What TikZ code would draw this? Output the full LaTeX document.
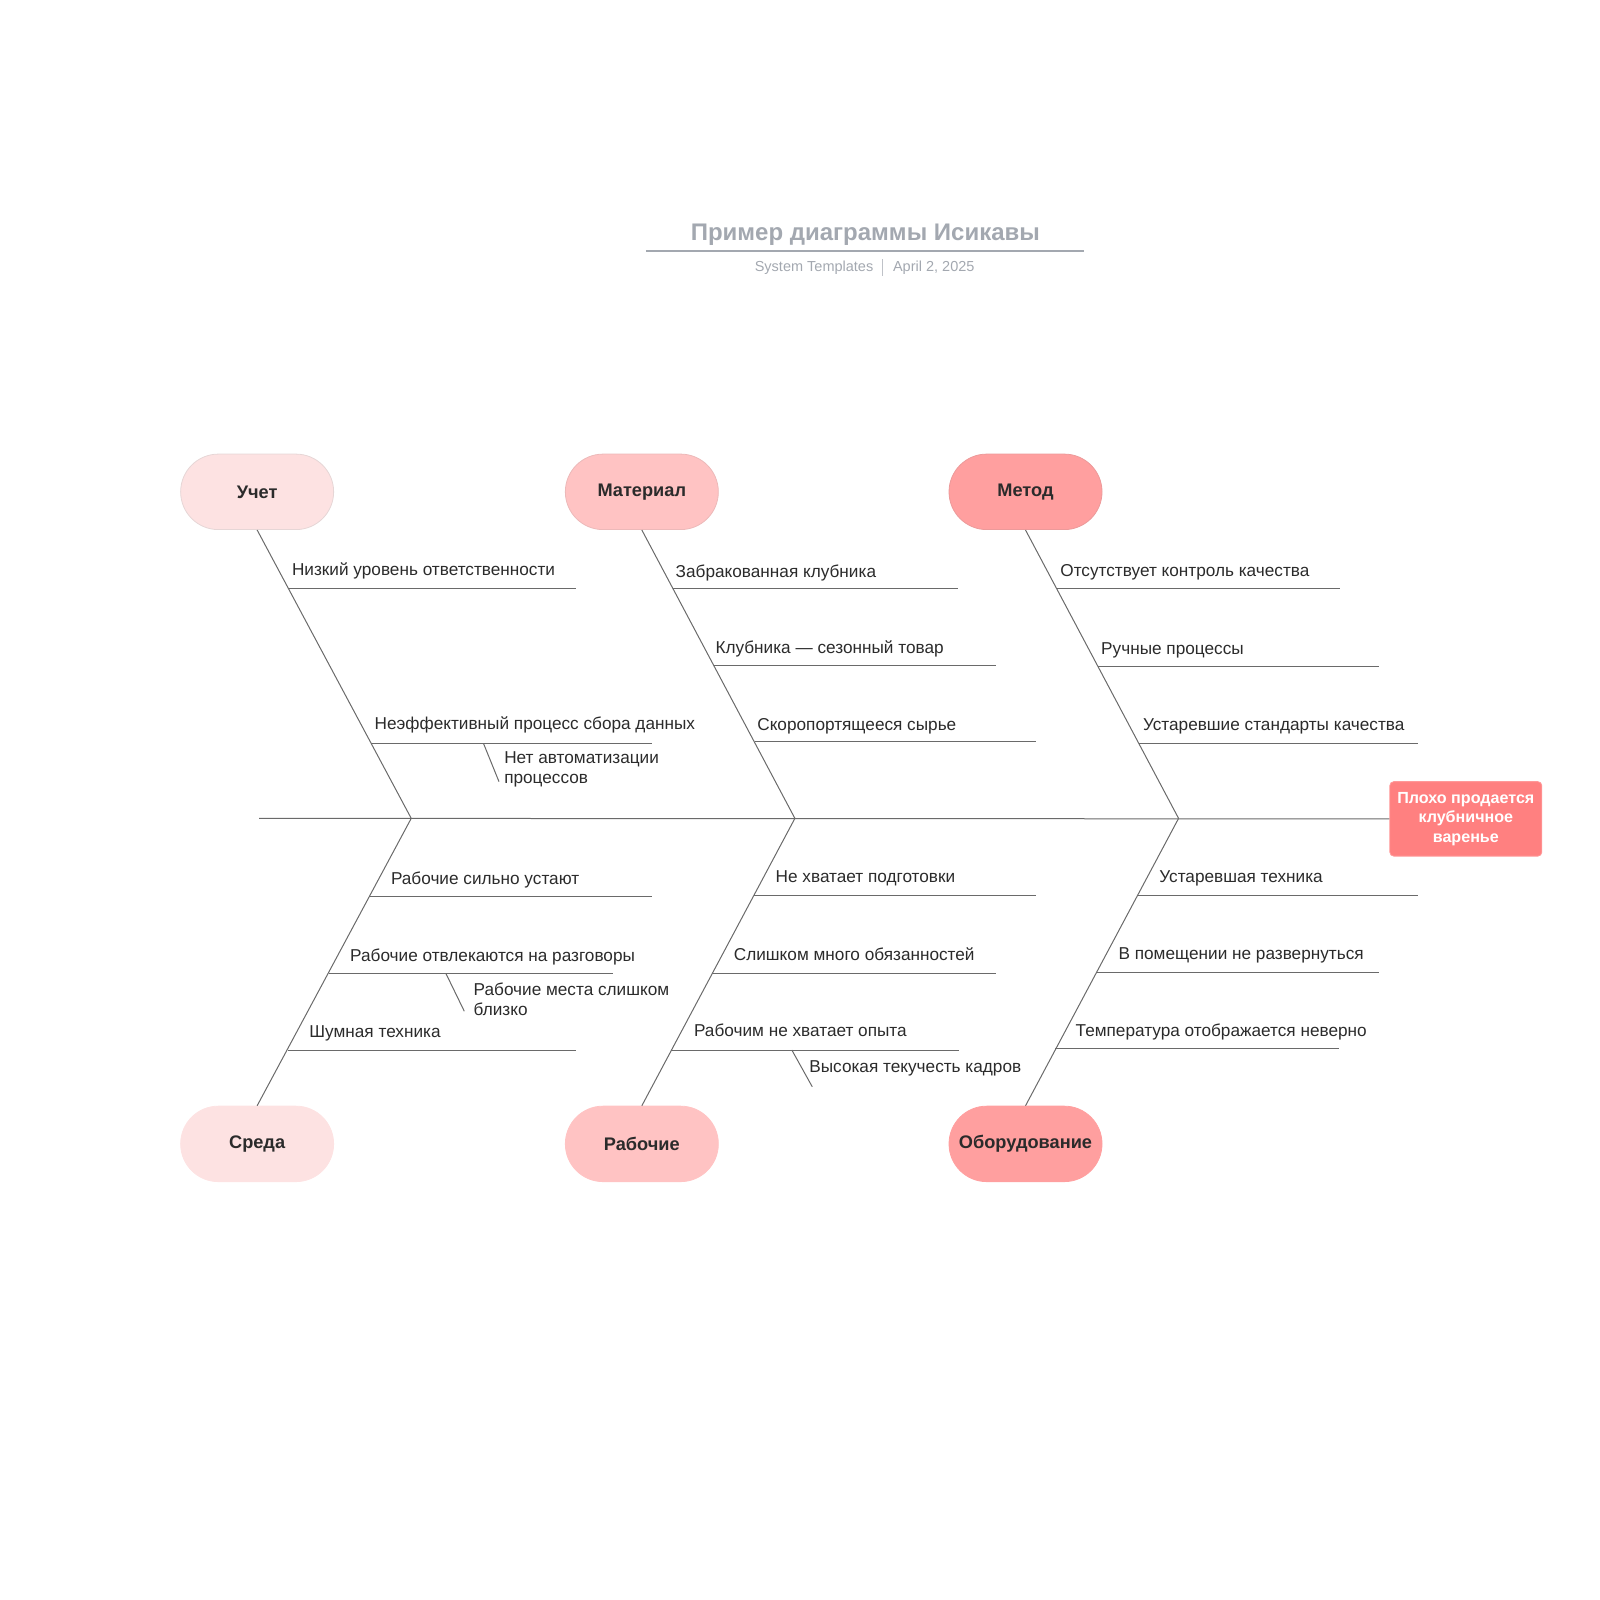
\documentclass[tikz,border=0pt]{standalone}
\usepackage{fontspec}
\setmainfont{Liberation Sans}
\definecolor{bonecol}{HTML}{6A6A6A}
\definecolor{txt}{HTML}{2B2B2B}
\definecolor{ttl}{HTML}{A3A8B0}
\definecolor{cA}{HTML}{FDE2E2}
\definecolor{cB}{HTML}{FFC3C3}
\definecolor{cC}{HTML}{FF9F9F}
\definecolor{cE}{HTML}{FF8080}
\definecolor{catline}{HTML}{E6D6D6}
\begin{document}
\begin{tikzpicture}[x=1.0204pt,y=-1.0204pt,
  bone/.style={draw=bonecol,line width=1pt},
  cat/.style={rounded corners=37.7pt,minimum width=153pt,minimum height=75.5pt,inner sep=0pt,
    font=\fontsize{18.2}{21}\selectfont\bfseries,text=txt,draw=catline,line width=0.8pt},
  lbl/.style={anchor=base west,inner sep=0pt,font=\fontsize{17.2}{20.4}\selectfont,text=txt},
  lbl2/.style={anchor=west,inner sep=0pt,align=left,font=\fontsize{17.2}{20.4}\selectfont,text=txt},
  effect/.style={rounded corners=4pt,minimum width=152pt,minimum height=74.5pt,inner sep=0pt,align=center,
    fill=cE,draw=cE!80!white,line width=0.8pt,text=white,font=\fontsize{16.1}{19.4}\selectfont\bfseries}]
\useasboundingbox (0,0) rectangle (1568,1568);
% title
\node[inner sep=0pt,font=\fontsize{24}{27}\selectfont\bfseries,text=ttl] (title) at (848,230) {Пример диаграммы Исикавы};
\coordinate (tl) at (633,246); \coordinate (tr) at (1062,246);
\draw[draw=ttl,line width=1.6pt] (tl) -- (tr);
\node[inner sep=0pt,anchor=east,font=\fontsize{14.5}{17}\selectfont,text=ttl] (sub1) at (856,262) {System Templates};
\node[inner sep=0pt,anchor=west,font=\fontsize{14.5}{17}\selectfont,text=ttl] (sub2) at (875,262) {April 2, 2025};
\coordinate (s1) at (865,254); \coordinate (s2) at (865,270);
\draw[draw=ttl!70!white,line width=0.8pt] (s1) -- (s2);
% spine and effect
\node[effect] (eff) at (1436.5,802.5) {Плохо продается\\клубничное\\варенье};
\coordinate (tail) at (254,802);
\coordinate (j1) at (403,802); \coordinate (j2) at (779,802); \coordinate (j3) at (1155,802);
\draw[bone] (tail) -- (eff.west);
% categories
\node[cat,fill=cA] (uchet) at (252,482) {Учет};
\node[cat,fill=cB,draw=cB!85!gray] (mat) at (629,482) {Материал};
\node[cat,fill=cC,draw=cC!85!gray] (met) at (1005,482) {Метод};
\node[cat,fill=cA,draw=cA] (sreda) at (252,1121) {Среда};
\node[cat,fill=cB,draw=cB] (rab) at (629,1121) {Рабочие};
\node[cat,fill=cC,draw=cC] (obo) at (1005,1121) {Оборудование};
\draw[bone] (uchet.south) -- (j1);
\draw[bone] (mat.south) -- (j2);
\draw[bone] (met.south) -- (j3);
\draw[bone] (sreda.north) -- (j1);
\draw[bone] (rab.north) -- (j2);
\draw[bone] (obo.north) -- (j3);
% Учет
\coordinate (a1s) at (283,577); \coordinate (a1e) at (564,577); \draw[bone] (a1s) -- (a1e);
\node[lbl] (a1) at (286,564) {Низкий уровень ответственности};
\coordinate (a2s) at (364,729); \coordinate (a2e) at (639,729); \draw[bone] (a2s) -- (a2e);
\node[lbl] (a2) at (367,715) {Неэффективный процесс сбора данных};
\coordinate (a3s) at (474,729); \coordinate (a3e) at (489,766); \draw[bone] (a3s) -- (a3e);
\node[lbl2] (a3) at (494,754) {Нет автоматизации\\процессов};
% Материал
\coordinate (b1s) at (660,577); \coordinate (b1e) at (939,577); \draw[bone] (b1s) -- (b1e);
\node[lbl] (b1) at (662,566) {Забракованная клубника};
\coordinate (b2s) at (700,652); \coordinate (b2e) at (976,652); \draw[bone] (b2s) -- (b2e);
\node[lbl] (b2) at (701,640) {Клубника — сезонный товар};
\coordinate (b3s) at (740,727); \coordinate (b3e) at (1015,727); \draw[bone] (b3s) -- (b3e);
\node[lbl] (b3) at (742,716) {Скоропортящееся сырье};
% Метод
\coordinate (c1s) at (1036,577); \coordinate (c1e) at (1313,577); \draw[bone] (c1s) -- (c1e);
\node[lbl] (c1) at (1039,565) {Отсутствует контроль качества};
\coordinate (c2s) at (1076,653); \coordinate (c2e) at (1351,653); \draw[bone] (c2s) -- (c2e);
\node[lbl] (c2) at (1079,641) {Ручные процессы};
\coordinate (c3s) at (1116,729); \coordinate (c3e) at (1390,729); \draw[bone] (c3s) -- (c3e);
\node[lbl] (c3) at (1120,716) {Устаревшие стандарты качества};
% Среда
\coordinate (d1s) at (362,879); \coordinate (d1e) at (639,879); \draw[bone] (d1s) -- (d1e);
\node[lbl] (d1) at (383,867) {Рабочие сильно устают};
\coordinate (d2s) at (322,954); \coordinate (d2e) at (601,954); \draw[bone] (d2s) -- (d2e);
\node[lbl] (d2) at (343,942) {Рабочие отвлекаются на разговоры};
\coordinate (d3s) at (437,954); \coordinate (d3e) at (455,991); \draw[bone] (d3s) -- (d3e);
\node[lbl2] (d3) at (464,979) {Рабочие места слишком\\близко};
\coordinate (d4s) at (282,1029); \coordinate (d4e) at (564,1029); \draw[bone] (d4s) -- (d4e);
\node[lbl] (d4) at (303,1017) {Шумная техника};
% Рабочие
\coordinate (e1s) at (739,878); \coordinate (e1e) at (1015,878); \draw[bone] (e1s) -- (e1e);
\node[lbl] (e1) at (760,865) {Не хватает подготовки};
\coordinate (e2s) at (698,954); \coordinate (e2e) at (976,954); \draw[bone] (e2s) -- (e2e);
\node[lbl] (e2) at (719,941) {Слишком много обязанностей};
\coordinate (e3s) at (658,1029); \coordinate (e3e) at (940,1029); \draw[bone] (e3s) -- (e3e);
\node[lbl] (e3) at (680,1016) {Рабочим не хватает опыта};
\coordinate (e4s) at (776,1029); \coordinate (e4e) at (796,1065); \draw[bone] (e4s) -- (e4e);
\node[lbl] (e4) at (793,1051) {Высокая текучесть кадров};
% Оборудование
\coordinate (f1s) at (1114,878); \coordinate (f1e) at (1390,878); \draw[bone] (f1s) -- (f1e);
\node[lbl] (f1) at (1136,865) {Устаревшая техника};
\coordinate (f2s) at (1074,953); \coordinate (f2e) at (1351,953); \draw[bone] (f2s) -- (f2e);
\node[lbl] (f2) at (1096,940) {В помещении не развернуться};
\coordinate (f3s) at (1034,1028); \coordinate (f3e) at (1312,1028); \draw[bone] (f3s) -- (f3e);
\node[lbl] (f3) at (1054,1016) {Температура отображается неверно};
\end{tikzpicture}
\end{document}
